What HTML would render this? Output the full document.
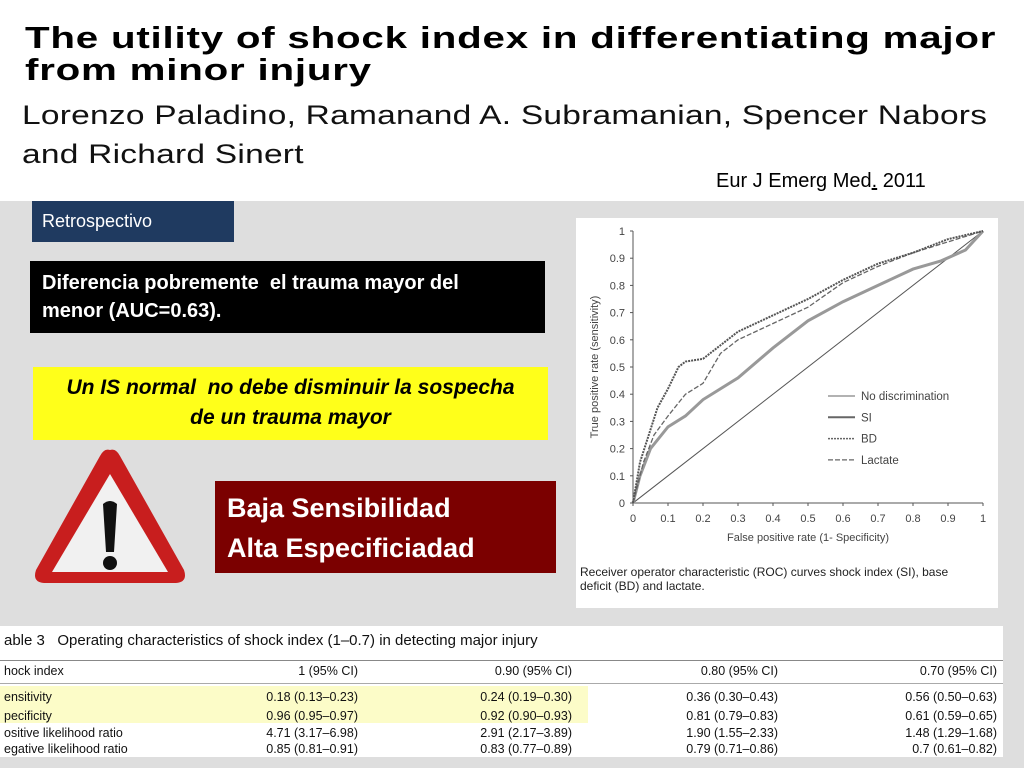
<!DOCTYPE html>
<html><head><meta charset="utf-8"><style>
body{margin:0;width:1024px;height:768px;overflow:hidden;background:#dedede;font-family:"Liberation Sans",sans-serif;position:relative}
.abs{position:absolute}
</style></head><body>
<div class="abs" style="left:0;top:0;width:1024px;height:201px;background:#fff"></div>
<div class="abs" style="left:25px;top:22px;font-weight:bold;font-size:31px;line-height:32px;letter-spacing:0.6px;color:#000;transform:scaleX(1.3);transform-origin:left top;white-space:nowrap">The utility of shock index in differentiating major<br>from minor injury</div>
<div class="abs" style="left:22px;top:96px;font-size:27px;line-height:39px;color:#111;letter-spacing:0.2px;transform:scaleX(1.24);transform-origin:left top;white-space:nowrap">Lorenzo Paladino, Ramanand A. Subramanian, Spencer Nabors<br>and Richard Sinert</div>
<div class="abs" style="left:716px;top:170px;font-size:20px;color:#000">Eur J Emerg Med<span style="text-decoration:underline">.</span> 2011</div>
<div class="abs" style="left:32px;top:201px;width:202px;height:41px;background:#1f3a60;color:#fff;font-size:18px;line-height:41px;padding-left:10px;box-sizing:border-box">Retrospectivo</div>
<div class="abs" style="left:30px;top:261px;width:515px;height:72px;background:#000;color:#fff;font-weight:bold;font-size:20px;line-height:28px;padding:8px 0 0 12px;box-sizing:border-box;white-space:nowrap">Diferencia pobremente&nbsp; el trauma mayor del<br>menor (AUC=0.63).</div>
<div class="abs" style="left:33px;top:367px;width:515px;height:73px;background:#ffff1a;color:#000;font-weight:bold;font-style:italic;font-size:21px;line-height:30px;text-align:center;padding-top:6px;box-sizing:border-box;white-space:nowrap">Un IS normal&nbsp; no debe disminuir la sospecha<br>de un trauma mayor</div>
<svg class="abs" style="left:30px;top:444px" width="160" height="145" viewBox="0 0 160 145">
<path d="M80 6 Q86 4 90 12 L154 126 Q158 138 146 139 L14 139 Q2 138 6 126 L70 12 Q74 4 80 6Z" fill="#c81e1e"/>
<path d="M80 30 L138 128 L22 128 Z" fill="#f1f1f1"/>
<path d="M73 60 Q80 54 87 60 L84 108 L76 108Z" fill="#111"/>
<circle cx="80" cy="119" r="7" fill="#111"/>
</svg>
<div class="abs" style="left:215px;top:481px;width:341px;height:92px;background:#7b0000;color:#fff;font-weight:bold;font-size:27px;line-height:40px;padding:7px 0 0 12px;box-sizing:border-box">Baja Sensibilidad<br>Alta Especificiadad</div>

<div class="abs" style="left:576px;top:218px;width:422px;height:390px;background:#fff"></div>
<svg id="roc" class="abs" style="left:0;top:0" width="1024" height="768"></svg>
<div class="abs" style="left:580px;top:565px;font-size:12px;line-height:14px;color:#222">Receiver operator characteristic (ROC) curves shock index (SI), base<br>deficit (BD) and lactate.</div>

<div class="abs" style="left:0;top:626px;width:1003px;height:131px;background:#fff;font-size:12.5px;color:#111">
<div class="abs" style="left:0;top:60px;width:588px;height:37px;background:#fcfcc8"></div>
<div class="abs" style="left:4px;top:6px;font-size:15px">able 3&nbsp;&nbsp; Operating characteristics of shock index (1–0.7) in detecting major injury</div>
<div class="abs" style="left:0;top:34px;width:1003px;height:1px;background:#888"></div>
<div class="abs" style="left:0;top:57px;width:1003px;height:1px;background:#aaa"></div>
<div id="tbl"></div>
</div>
<script>
const fpr = {
 bd:[0,0.02,0.05,0.07,0.1,0.13,0.15,0.2,0.25,0.3,0.4,0.5,0.6,0.7,0.8,0.9,1],
 lac:[0,0.03,0.06,0.1,0.15,0.2,0.25,0.3,0.4,0.5,0.6,0.7,0.8,0.9,1],
 si:[0,0.02,0.05,0.1,0.15,0.2,0.3,0.4,0.5,0.6,0.7,0.8,0.88,0.95,1]
};
const tprBD=[0,0.15,0.27,0.35,0.42,0.5,0.52,0.53,0.58,0.63,0.69,0.75,0.82,0.88,0.92,0.97,1];
const tprLac=[0,0.15,0.25,0.32,0.4,0.44,0.55,0.6,0.66,0.72,0.81,0.87,0.92,0.96,1];
const tprSI=[0,0.1,0.2,0.28,0.32,0.38,0.46,0.57,0.67,0.74,0.8,0.86,0.89,0.93,1];
const ticks=[0,0.1,0.2,0.3,0.4,0.5,0.6,0.7,0.8,0.9,1];
const tickLabels=["0","0.1","0.2","0.3","0.4","0.5","0.6","0.7","0.8","0.9","1"];
const legendLabels=["No discrimination","SI","BD","Lactate"];
const X0=633,X1=983,Y0=503,Y1=231;
const sx=v=>X0+(X1-X0)*v, sy=v=>Y0-(Y0-Y1)*v;
const svg=document.getElementById('roc'),NS='http://www.w3.org/2000/svg';
function mk(t,a){const e=document.createElementNS(NS,t);for(const k in a)e.setAttribute(k,a[k]);svg.appendChild(e);return e;}
let e;
e=mk('line',{x1:X0,y1:Y0,x2:X1,y2:Y0,stroke:'#555'});


e=mk('line',{x1:X0,y1:Y0,x2:X0,y2:Y1,stroke:'#555'});


ticks.forEach((t,i)=>{
 e=mk('text',{x:sx(t),y:Y0+19,'font-size':11,'text-anchor':'middle',fill:'#444'});e.textContent=tickLabels[i];
 
 
 e=mk('text',{x:X0-8,y:sy(t)+4,'font-size':11,'text-anchor':'end',fill:'#444'});e.textContent=tickLabels[i];
 
 
 mk('line',{x1:sx(t),y1:Y0,x2:sx(t),y2:Y0+3,stroke:'#555'});
 mk('line',{x1:X0,y1:sy(t),x2:X0-3,y2:sy(t),stroke:'#555'});
});
e=mk('text',{x:(X0+X1)/2,y:Y0+38,'font-size':11,'text-anchor':'middle',fill:'#444'});e.textContent='False positive rate (1- Specificity)';


e=mk('text',{x:0,y:0,'font-size':11,'text-anchor':'middle',fill:'#444',transform:`translate(598,${(Y0+Y1)/2}) rotate(-90)`});e.textContent='True positive rate (sensitivity)';


e=mk('line',{x1:sx(0),y1:sy(0),x2:sx(1),y2:sy(1),stroke:'#555','stroke-width':1});


function path(xs,ys){return xs.map((x,i)=>(i?'L':'M')+sx(x)+' '+sy(ys[i])).join('');}
e=mk('path',{d:path(fpr.si,tprSI),fill:'none',stroke:'#999','stroke-width':3});


e=mk('path',{d:path(fpr.lac,tprLac),fill:'none',stroke:'#666','stroke-width':1.3,'stroke-dasharray':'5 2'});


e=mk('path',{d:path(fpr.bd,tprBD),fill:'none',stroke:'#555','stroke-width':2,'stroke-dasharray':'2 1'});


const lstyles=[{w:1,d:''},{w:2,d:''},{w:1.5,d:'2 1'},{w:1.3,d:'5 2'}];
legendLabels.forEach((l,i)=>{
 const y=396+i*21.3;
 e=mk('line',{x1:828,x2:855,y1:y,y2:y,stroke:'#666','stroke-width':lstyles[i].w,'stroke-dasharray':lstyles[i].d});
 
 
 e=mk('text',{x:861,y:y+4,'font-size':11.5,fill:'#444'});e.textContent=l;
 
 
});
const rowLabels=["hock index","ensitivity","pecificity","ositive likelihood ratio","egative likelihood ratio"];
const colVals=[["1 (95% CI)","0.18 (0.13–0.23)","0.96 (0.95–0.97)","4.71 (3.17–6.98)","0.85 (0.81–0.91)"],
["0.90 (95% CI)","0.24 (0.19–0.30)","0.92 (0.90–0.93)","2.91 (2.17–3.89)","0.83 (0.77–0.89)"],
["0.80 (95% CI)","0.36 (0.30–0.43)","0.81 (0.79–0.83)","1.90 (1.55–2.33)","0.79 (0.71–0.86)"],
["0.70 (95% CI)","0.56 (0.50–0.63)","0.61 (0.59–0.65)","1.48 (1.29–1.68)","0.7 (0.61–0.82)"]];
const tbl=document.getElementById('tbl');
const rowY=[38,64,83,100,116], colR=[358,572,778,997];
rowLabels.forEach((r,i)=>{
 const d=document.createElement('div');d.className='abs';d.style.cssText=`left:4px;top:${rowY[i]}px`;d.textContent=r;
 
 
 tbl.appendChild(d);
 colVals.forEach((c,j)=>{
  const v=document.createElement('div');v.className='abs';v.style.cssText=`right:${1003-colR[j]}px;top:${rowY[i]}px;white-space:nowrap;width:200px;text-align:right`;v.textContent=c[i];
  
  
  tbl.appendChild(v);
 });
});
</script>
</body></html>
